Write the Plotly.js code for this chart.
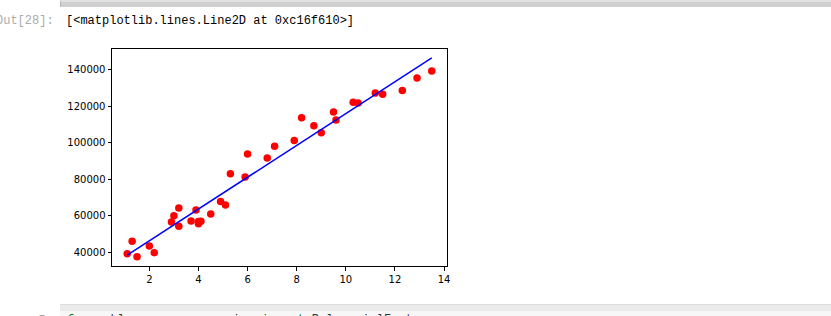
<!DOCTYPE html>
<html>
<head>
<meta charset="utf-8">
<script src="https://cdn.plot.ly/plotly-3.0.1.min.js"></script>
<style>
  html, body { margin:0; padding:0; background:#fff; width:831px; height:316px; overflow:hidden; }
  #topcell { position:absolute; left:60px; top:0; width:771px; height:7px; background:#cfcfcf; border-top:2px solid #e2e2e2; box-sizing:border-box; border-left:1px solid #b8b8b8; }
  #outp { position:absolute; left:-4px; top:13px; width:57px; text-align:right; font-family:"Liberation Mono", monospace; font-size:12px; color:#aaaaaa; line-height:16px; }
  #outtext { position:absolute; left:66px; top:13px; font-family:"Liberation Mono", monospace; font-size:12px; color:#000; line-height:16px; white-space:pre; }
  #botcell { position:absolute; left:60px; top:304px; width:771px; height:12px; background:#f7f7f7; border-top:1px solid #dcdcdc; box-sizing:border-box; overflow:hidden; }
  #botband { position:absolute; left:0; top:0; width:100%; height:6px; background:#ebebeb; }
  #bottext { position:absolute; left:7px; top:7px; font-family:"Liberation Mono", monospace; font-size:12px; color:#333; line-height:16px; white-space:pre; }
  #inp { position:absolute; left:-4px; top:313px; width:57px; text-align:right; font-family:"Liberation Mono", monospace; font-size:12px; color:#aaaaaa; line-height:16px; }
  #plot { position:absolute; left:0; top:0; width:831px; height:316px; }
</style>
</head>
<body>
<div id="topcell"></div>
<div id="outp">Out[28]:</div>
<div id="outtext">[&lt;matplotlib.lines.Line2D at 0xc16f610&gt;]</div>
<div id="botcell"><div id="botband"></div><div id="bottext"><span style="color:#008000">from</span> sklearn.preprocessing <span style="color:#008000">import</span> PolynomialFeatures</div></div>
<div id="inp">In [29]:</div>
<div id="plot"></div>
<script>
// Years of experience vs salary (scatter), plus fitted regression line
var years = [1.1, 1.3, 1.5, 2.0, 2.2, 2.9, 3.0, 3.2, 3.2, 3.7, 3.9, 4.0, 4.0, 4.1, 4.5, 4.9, 5.1, 5.3, 5.9, 6.0,
             6.8, 7.1, 7.9, 8.2, 8.7, 9.0, 9.5, 9.6, 10.3, 10.5, 11.2, 11.5, 12.3, 12.9, 13.5];
var salary = [39343, 46205, 37731, 43525, 39891, 56642, 60150, 54445, 64445, 57189, 63218, 55794, 56957, 57081,
              61111, 67938, 66029, 83088, 81363, 93940, 91738, 98273, 101302, 113812, 109431, 105582, 116969,
              112635, 122391, 121872, 127345, 126756, 128765, 135675, 139465];
var lineX = [1.1, 13.5];
var lineY = [38500, 146700];
var xTicks = [2, 4, 6, 8, 10, 12, 14];
var yTicks = [40000, 60000, 80000, 100000, 120000, 140000];

var traces = [
  { x: years, y: salary, type: 'scatter', mode: 'markers',
    marker: { color: '#ff0000', size: 7.5, line: { width: 0 } }, hoverinfo: 'skip' },
  { x: lineX, y: lineY, type: 'scatter', mode: 'lines',
    line: { color: '#0000ff', width: 1.5 }, hoverinfo: 'skip' }
];

var axisCommon = {
  showgrid: false, zeroline: false, showline: true, mirror: true,
  linecolor: '#000000', linewidth: 1, ticks: 'outside', ticklen: 3.5, tickwidth: 1,
  tickcolor: '#000000', tickfont: { family: 'DejaVu Sans', size: 10, color: '#000000' }
};

var layout = {
  width: 831, height: 316,
  margin: { l: 112, r: 384, t: 49, b: 50, pad: 0 },
  paper_bgcolor: 'rgba(0,0,0,0)', plot_bgcolor: '#ffffff',
  showlegend: false,
  xaxis: Object.assign({}, axisCommon, { range: [0.48, 14.12], tickvals: xTicks, ticktext: xTicks.map(String) }),
  yaxis: Object.assign({}, axisCommon, { range: [32600, 151500], tickvals: yTicks, ticktext: yTicks.map(String) })
};

Plotly.newPlot('plot', traces, layout, { staticPlot: true, displayModeBar: false });
</script>
</body>
</html>
